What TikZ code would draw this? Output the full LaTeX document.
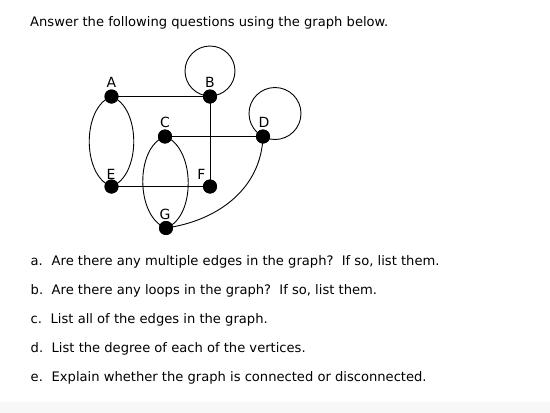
\documentclass[tikz,border=0pt]{standalone}
\usepackage{fontspec}
\setmainfont{DejaVu Sans}
\begin{document}
\begin{tikzpicture}[x=1pt,y=-1pt,
  vtx/.style={circle,fill=black,inner sep=0pt,minimum size=14pt},
  vlab/.style={anchor=base,inner sep=0pt,font=\fontsize{14}{16}\selectfont},
  edge/.style={line width=0.9pt},
  qtext/.style={anchor=base west,inner sep=0pt,font=\fontsize{13.1}{15}\selectfont}]
\useasboundingbox (0,0) rectangle (550,413);
\fill[white] (0,0) rectangle (550,413);
\fill[black!3] (0,402) rectangle (550,413);
% vertices
\node[vtx] (A) at (111.5,96.5) {};
\node[vtx] (B) at (210,96.5) {};
\node[vtx] (C) at (165,136.5) {};
\node[vtx] (D) at (263,136.5) {};
\node[vtx] (E) at (111.5,186.5) {};
\node[vtx] (F) at (210,186.5) {};
\node[vtx] (G) at (166,228) {};
% edges
\draw[edge] (A.center) -- (B.center);
\draw[edge] (B.center) -- (F.center);
\draw[edge] (C.center) -- (D.center);
\draw[edge] (E.center) -- (F.center);
\draw[edge] (D.center) to[out=-92,in=8] (G.center);
\draw[edge] (A.center) to[out=-160,in=160,looseness=0.9] (E.center);
\draw[edge] (A.center) to[out=-20,in=20,looseness=0.9] (E.center);
\draw[edge] (C.center) to[out=-160,in=160,looseness=0.9] (G.center);
\draw[edge] (C.center) to[out=-20,in=20,looseness=0.9] (G.center);
\draw[edge] (210,71) circle[radius=25];
\draw[edge] (275,113.5) circle[radius=26];
% redraw dots on top
\foreach \v in {A,B,C,D,E,F,G} \fill (\v.center) circle[radius=7];
% labels
\node[vlab] (lA) at (111.5,87) {A};
\node[vlab] (lB) at (210,87) {B};
\node[vlab] (lC) at (165,127) {C};
\node[vlab] (lD) at (264,127) {D};
\node[vlab] (lE) at (111,179.5) {E};
\node[vlab] (lF) at (201.5,179.5) {F};
\node[vlab] (lG) at (165,219) {G};
% text
\node[qtext] (t0) at (30,26) {Answer the following questions using the graph below.};
\node[qtext] (ta) at (30.5,265) {a.};
\node[qtext] (qa) at (51.5,265) {Are there any multiple edges in the graph?\ \ If so, list them.};
\node[qtext] (tb) at (30.5,294) {b.};
\node[qtext] (qb) at (51.5,294) {Are there any loops in the graph?\ \ If so, list them.};
\node[qtext] (tc) at (30.5,323) {c.};
\node[qtext] (qc) at (50.5,323) {List all of the edges in the graph.};
\node[qtext] (td) at (30.5,352) {d.};
\node[qtext] (qd) at (51.5,352) {List the degree of each of the vertices.};
\node[qtext] (te) at (30.5,381.5) {e.};
\node[qtext] (qe) at (51.5,381.5) {Explain whether the graph is connected or disconnected.};
\end{tikzpicture}
\end{document}
